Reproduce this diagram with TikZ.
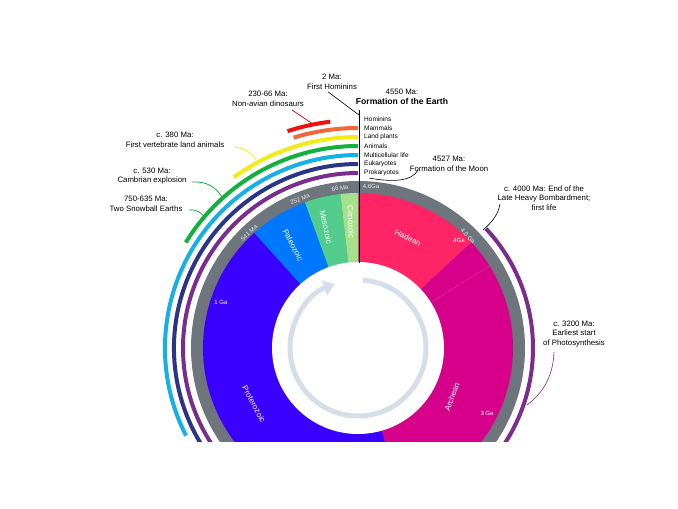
\documentclass[tikz,border=0pt]{standalone}
\usepackage{fontspec}
\setmainfont{Liberation Sans}
\usetikzlibrary{arrows.meta,calc}
\definecolor{had}{HTML}{FF2466}
\definecolor{arc}{HTML}{D6008A}
\definecolor{pro}{HTML}{3A00FF}
\definecolor{pal}{HTML}{0077FF}
\definecolor{mes}{HTML}{52CC8C}
\definecolor{cen}{HTML}{A6E08A}
\definecolor{ring}{HTML}{6E757D}
\definecolor{cpur}{HTML}{7B2D8E}
\definecolor{cnav}{HTML}{2A3585}
\definecolor{ccya}{HTML}{14B0E6}
\definecolor{cgre}{HTML}{12B03C}
\definecolor{cyel}{HTML}{F0EC1A}
\definecolor{cora}{HTML}{EE6A3A}
\definecolor{cred}{HTML}{EE1111}
\definecolor{carr}{HTML}{D6DFE9}
\newcommand\sect[4]{\fill[#4] (C) -- ++({#1-90}:#3) arc[start angle={#1-90}, end angle={#2-90}, radius=#3] -- cycle;}
\newcommand\arcr[4]{\draw[#4] (C) ++({#1-90}:#3) arc[start angle={#1-90}, end angle={#2-90}, radius=#3];}
\tikzset{lab/.style={font=\fontsize{7.8}{9.6}\selectfont, align=center, inner sep=0pt},
 leg/.style={font=\fontsize{6.5}{7}\selectfont, anchor=west, inner sep=0pt},
 era/.style={font=\fontsize{8}{9}\selectfont, text=white, inner sep=0pt},
 rl/.style={font=\fontsize{6}{7}\selectfont, text=white!85!ring, inner sep=0pt},
 band/.style={line width=4pt}}
\begin{document}
\begin{tikzpicture}[x=1pt,y=-1pt]
\useasboundingbox (0,0) rectangle (678,509);
\coordinate (C) at (358,348);
\begin{scope}
\clip (0,0) rectangle (678,441);
\fill[ring] (C) circle[radius=167];
\sect{0}{47}{155}{had}
\sect{47}{164}{155}{arc}
\sect{164}{318}{155}{pro}
\sect{318}{340}{155}{pal}
\sect{340}{353.5}{155}{mes}
\sect{353.5}{360}{155}{cen}
\draw[white!60!arc, densely dotted, line width=0.4pt] (C) ++({58-90}:88) -- ++({58-90}:67);
\fill[white] (C) circle[radius=86];
\draw[carr, line width=5pt, -{Triangle[length=11pt,width=15pt]}] (C) ++({4-90}:68) arc[start angle={4-90}, end angle={340-90}, radius=68];
\arcr{47}{360}{175}{band,cpur}
\arcr{200}{360}{184}{band,cnav}
\arcr{243}{360}{193}{band,ccya}
\arcr{301.5}{360}{202}{band,cgre}
\arcr{324}{360}{211}{band,cyel}
\arcr{343}{360}{220}{band,cora}
\arcr{342}{353}{228}{band,cred}
\end{scope}
\draw[line width=0.9pt] (359,110) -- (359,263);
\node[era, rotate=-27] (hadl) at (408,238) {Hadean};
\node[era, rotate=70] (arcl) at (452,397) {Archean};
\node[era, rotate=-62] (prol) at (254,404) {Proterozoic};
\node[era, rotate=-62] (pall) at (293,245) {Paleozoic};
\node[era, rotate=-78] (mesl) at (326,227) {Mesozoic};
\node[era, rotate=-88] (cenl) at (351,222) {Cenozoic};
\node[rl] (g46) at (371,186) {4.6Ga};
\node[rl, rotate=7] (g66) at (340,188) {66 Ma};
\node[rl, rotate=20] (g252) at (300,199) {252 Ma};
\node[rl, rotate=43] (g541) at (249,233) {541 Ma};
\node[rl, rotate=-46] (g40) at (468,236) {4.0 Ga};
\node[rl, text=white] (i4) at (459,240) {4Ga};
\node[rl, text=white] (i3) at (487,413) {3 Ga};
\node[rl, text=white] (i1) at (221,302) {1 Ga};
\node[leg] (l1) at (364,119) {Hominins};
\node[leg] (l2) at (364,128) {Mammals};
\node[leg] (l3) at (364,137) {Land plants};
\node[leg] (l4) at (364,146) {Animals};
\node[leg] (l5) at (364,155) {Multicellular life};
\node[leg] (l6) at (364,164) {Eukaryotes};
\node[leg] (l7) at (364,173) {Prokaryotes};
\node[lab] (hom) at (332,82) {2 Ma:\\First Hominins};
\coordinate (homa) at (359,115);
\draw[line width=0.6pt] (hom.south) ++(-4,2) -- (homa);
\node[lab] (ear) at (402,97) {4550 Ma:\\\textbf{\fontsize{8.6}{9.6}\selectfont Formation of the Earth}};
\node[lab] (moo) at (449,164) {4527 Ma:\\Formation of the Moon};
\coordinate (mooa) at (369,178);
\draw[line width=0.6pt] (mooa) .. controls (390,182) and (412,182) .. (418,170);
\node[lab] (din) at (268,99) {230-66 Ma:\\Non-avian dinosaurs};
\coordinate (dina) at (313,124);
\draw[cred, line width=0.8pt] (292,110) -- (dina);
\node[lab] (ver) at (175,140) {c. 380 Ma:\\First vertebrate land animals};
\coordinate (vera) at (256,160);
\draw[cyel, line width=0.8pt] (234,147) .. controls (246,148) and (252,154) .. (vera);
\node[lab] (cam) at (152,176) {c. 530 Ma:\\Cambrian explosion};
\coordinate (cama) at (222,197);
\draw[cgre, line width=0.8pt] (192,182) .. controls (208,181) and (216,188) .. (cama);
\node[lab] (sno) at (146,204) {750-635 Ma:\\Two Snowball Earths};
\coordinate (snoa) at (205,218);
\draw[cgre, line width=0.8pt] (189,210) .. controls (197,209) and (202,213) .. (snoa);
\node[lab] (lhb) at (544,198) {c. 4000 Ma: End of the\\Late Heavy Bombardment;\\first life};
\coordinate (lhba) at (483,230);
\draw[line width=0.6pt] (500,204) .. controls (498,216) and (490,224) .. (lhba);
\node[lab] (pho) at (574,334) {c. 3200 Ma:\\Earliest start\\of Photosynthesis};
\coordinate (phoa) at (527,405);
\draw[cpur, line width=0.6pt] (554,352) .. controls (553,380) and (540,395) .. (phoa);
\end{tikzpicture}
\end{document}
